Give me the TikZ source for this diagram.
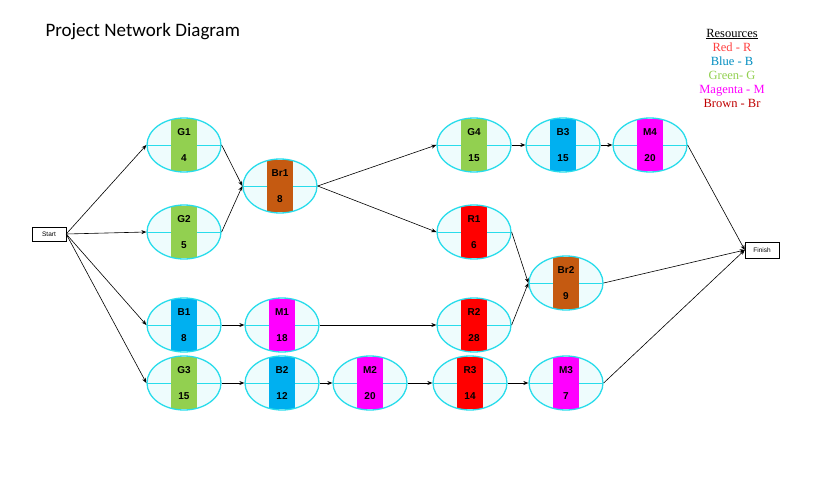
\documentclass[tikz,border=0pt]{standalone}
\usepackage{fontspec}
\setmainfont{Liberation Sans}
\newfontfamily\titlefont{Carlito}
\newfontfamily\legendfont{Liberation Serif}
\usetikzlibrary{shapes.geometric,arrows.meta}
\definecolor{resgreen}{RGB}{146,208,80}
\definecolor{resblue}{RGB}{0,176,240}
\definecolor{resmagenta}{RGB}{255,0,255}
\definecolor{resred}{RGB}{255,0,0}
\definecolor{resbrown}{RGB}{197,90,17}
\definecolor{ringcyan}{RGB}{40,220,235}
\tikzset{
  act/.style={ellipse, draw=ringcyan, line width=1.3pt, fill=ringcyan!8,
    minimum width=74pt, minimum height=54pt, inner sep=0pt,
    path picture={
      \draw[ringcyan, line width=1pt] (path picture bounding box.west) -- (path picture bounding box.east);
      \fill[#1] ([xshift=-13pt,yshift=-1pt]path picture bounding box.north) rectangle ([xshift=13pt,yshift=1pt]path picture bounding box.south);}},
  txt/.style={font=\bfseries\fontsize{10}{12}\selectfont},
  term/.style={draw, fill=white, font=\fontsize{6.5}{7}\selectfont, minimum width=34pt, minimum height=14pt, inner sep=1pt},
  link/.style={-{Stealth[length=5pt,width=4pt]}, line width=0.6pt}
}
% one activity: name, position, colour, label, duration
\newcommand{\activity}[5]{
  \node[act=#3] (#1) at (#2) {};
  \node[txt] at ([yshift=13pt]#1.center) {#4};
  \node[txt] at ([yshift=-13pt]#1.center) {#5};
}
\begin{document}
\begin{tikzpicture}[x=1pt,y=-1pt]
  \useasboundingbox (0,0) rectangle (831,479);
  % title and legend
  \node[anchor=west, font=\titlefont\fontsize{19}{22}\selectfont] (title) at (42,32) {Project Network Diagram};
  \node[font=\legendfont\fontsize{12.5}{14}\selectfont, align=center] (legend) at (732,68) {\underline{Resources}\\[0pt]
    \textcolor{resred!75!white}{Red - R}\\[0pt]
    \textcolor{resblue!80!black}{Blue - B}\\[0pt]
    \textcolor{resgreen}{Green- G}\\[0pt]
    \textcolor{resmagenta}{Magenta - M}\\[0pt]
    \textcolor{red!75!black}{Brown - Br}};

  % start and finish
  \node[term] (start) at (49,234) {Start};
  \node[term, minimum height=16pt] (finish) at (762,250) {Finish};

  % activities
  \activity{G1}{184,145}{resgreen}{G1}{4}
  \activity{G2}{184,232}{resgreen}{G2}{5}
  \activity{Br1}{280,186}{resbrown}{Br1}{8}
  \activity{G4}{474,145}{resgreen}{G4}{15}
  \activity{B3}{563,145}{resblue}{B3}{15}
  \activity{M4}{650,145}{resmagenta}{M4}{20}
  \activity{R1}{474,232}{resred}{R1}{6}
  \activity{Br2}{566,283}{resbrown}{Br2}{9}
  \activity{B1}{184,325}{resblue}{B1}{8}
  \activity{M1}{282,325}{resmagenta}{M1}{18}
  \activity{R2}{474,325}{resred}{R2}{28}
  \activity{G3}{184,383}{resgreen}{G3}{15}
  \activity{B2}{282,383}{resblue}{B2}{12}
  \activity{M2}{370,383}{resmagenta}{M2}{20}
  \activity{R3}{470,383}{resred}{R3}{14}
  \activity{M3}{566,383}{resmagenta}{M3}{7}

  % connectors
  \foreach \a/\b in {G1/Br1, G2/Br1, Br1/G4, Br1/R1, G4/B3, B3/M4, R1/Br2, R2/Br2,
                     B1/M1, M1/R2, G3/B2, B2/M2, M2/R3, R3/M3}
    \draw[link] (\a.east) -- (\b.west);
  \foreach \b in {G1, G2, B1, G3}
    \draw[link] (start.east) -- (\b.west);
  \foreach \a in {M4, Br2, M3}
    \draw[link] (\a.east) -- (finish.west);
\end{tikzpicture}
\end{document}
